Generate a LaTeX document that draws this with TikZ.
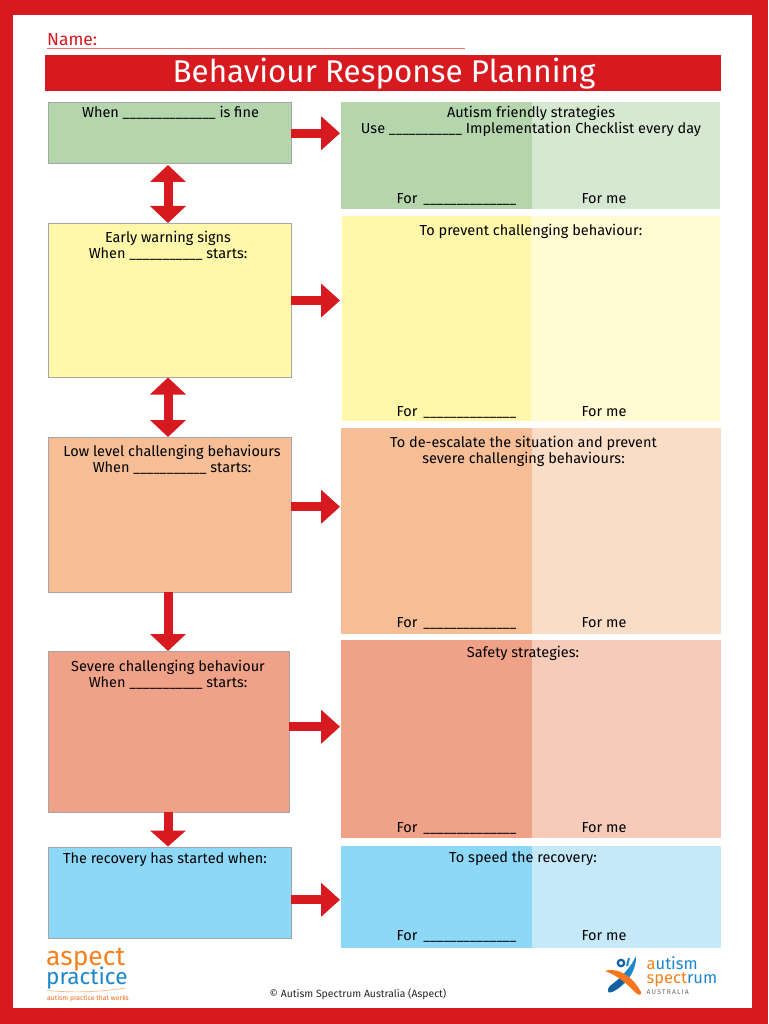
\documentclass[tikz,border=0pt]{standalone}
\usepackage{fontspec}
\setmainfont{Fira Sans}
\usetikzlibrary{arrows.meta,calc}
\definecolor{aspred}{HTML}{D71920}
\definecolor{grnD}{HTML}{B5D6AC}\definecolor{grnL}{HTML}{D7E8D2}
\definecolor{yelD}{HTML}{FFF7AA}\definecolor{yelL}{HTML}{FFFBD2}
\definecolor{orgD}{HTML}{F5BE96}\definecolor{orgL}{HTML}{F9DDC7}
\definecolor{redD}{HTML}{F0A288}\definecolor{redL}{HTML}{F6CBB9}
\definecolor{bluD}{HTML}{8DD7F7}\definecolor{bluL}{HTML}{C6E9FA}
\definecolor{lgorange}{HTML}{F58220}\definecolor{lgblue}{HTML}{1B87C9}
\definecolor{lgdark}{HTML}{14609E}
\tikzset{
 lbox/.style={draw=black!35,line width=1pt,inner sep=0pt,outer sep=0pt,anchor=north west},
 zone/.style={inner sep=0pt,outer sep=0pt,anchor=north west},
 txt/.style={font=\fontsize{14.5}{16}\selectfont,align=center,inner sep=0pt,text=black,anchor=base},
 flow/.style={draw=aspred,line width=9pt},
 rarrow/.style={flow,-{Triangle[length=19pt,width=33pt,fill=aspred]}},
 darrow/.style={flow,{Triangle[length=17pt,width=35pt,fill=aspred]}-{Triangle[length=17pt,width=35pt,fill=aspred]}},
 sarrow/.style={flow,-{Triangle[length=17pt,width=35pt,fill=aspred]}},
 sarrowb/.style={flow,-{Triangle[length=16pt,width=35pt,fill=aspred]}},
}
\newcommand{\blank}[1]{{\fontsize{13}{16}\selectfont\foreach \i in {1,...,#1}{\_}}}
\begin{document}
\begin{tikzpicture}[x=1pt,y=-1pt]
\useasboundingbox (0,0) rectangle (768,1024);
\fill[aspred] (0,0) rectangle (768,1024);
\fill[white] (13,15) rectangle (752,1008);
% header
\node[anchor=base west,inner sep=0pt,text=aspred,font=\fontsize{17.4}{18}\selectfont] (name) at (47,46) {Name:};
\coordinate (nl) at (47,48.5); \coordinate (nr) at (465,48.5);
\draw[aspred!60,line width=1.2pt] (nl) -- (nr);
\node[zone,fill=aspred,minimum width=676pt,minimum height=36pt] (bar) at (45,55) {};
\node[anchor=base,text=white,inner sep=0pt,font=\fontsize{31.4}{33}\selectfont] (title) at (384,82.5) {Behaviour Response Planning};
% left boxes
\node[lbox,fill=grnD,minimum width=243pt,minimum height=61.5pt] (a1) at (48,102.5) {};
\node[lbox,fill=yelD,minimum width=243pt,minimum height=154pt] (a2) at (48,223.5) {};
\node[lbox,fill=orgD,minimum width=243pt,minimum height=154.5pt] (a3) at (48,437.5) {};
\node[lbox,fill=redD,minimum width=241pt,minimum height=160.5pt] (a4) at (48,651.5) {};
\node[lbox,fill=bluD,minimum width=243pt,minimum height=90.5pt] (a5) at (48,847.5) {};
% right zones
\node[zone,fill=grnL,minimum width=379pt,minimum height=107pt] (b1) at (341,102) {};
\fill[grnD] (341,102) rectangle (532,209);
\node[zone,fill=yelL,minimum width=378pt,minimum height=205pt] (b2) at (342,216) {};
\fill[yelD] (342,216) rectangle (531,421);
\node[zone,fill=orgL,minimum width=380pt,minimum height=206pt] (b3) at (341,428) {};
\fill[orgD] (341,428) rectangle (532,634);
\node[zone,fill=redL,minimum width=380pt,minimum height=198pt] (b4) at (341,640) {};
\fill[redD] (341,640) rectangle (532,838);
\node[zone,fill=bluL,minimum width=380pt,minimum height=102pt] (b5) at (341,846) {};
\fill[bluD] (341,846) rectangle (532,948);
% left texts
\node[txt] (t1) at (170.5,117.5) {When \blank{14} is fine};
\node[txt] (t2a) at (168,242.5) {Early warning signs};
\node[txt] (t2b) at (168,258.5) {When \blank{11} starts:};
\node[txt] (t3a) at (172,456.5) {Low level challenging behaviours};
\node[txt] (t3b) at (172,472.5) {When \blank{11} starts:};
\node[txt] (t4a) at (168,671.5) {Severe challenging behaviour};
\node[txt] (t4b) at (168,687.5) {When \blank{11} starts:};
\node[txt] (t5) at (165,863.5) {The recovery has started when:};
% right texts
\node[txt] (r1a) at (531,117.5) {Autism friendly strategies};
\node[txt] (r1b) at (531,133.5) {Use \blank{11} Implementation Checklist every day};
\node[txt] (r2) at (531,235.5) {To prevent challenging behaviour:};
\node[txt] (r3a) at (523.5,447.5) {To de-escalate the situation and prevent};
\node[txt] (r3b) at (523.5,463.5) {severe challenging behaviours:};
\node[txt] (r4) at (523,657.5) {Safety strategies:};
\node[txt] (r5) at (523,862.5) {To speed the recovery:};
\foreach \y/\n in {204/1,416/2,627.5/3,832.5/4,940.5/5}{
 \node[txt] (f\n) at (456.5,\y) {For\hspace{6pt}\blank{14}};
 \node[txt] (m\n) at (604,\y) {For me};
}
% connectors
\draw[rarrow] ($(a1.east)+(0,0)$) -- ($(a1.east -| b1.west)+(-1,0)$);
\draw[rarrow] ($(a2.east)+(0,0)$) -- ($(a2.east -| b1.west)+(-1,0)$);
\draw[rarrow] ($(a3.east)+(0,-8)$) -- ($(a3.east -| b1.west)+(-1,-8)$);
\draw[rarrow] ($(a4.east)+(0,-5)$) -- ($(a4.east -| b1.west)+(-1,-5)$);
\draw[rarrow] ($(a5.east)+(0,7)$) -- ($(a5.east -| b1.west)+(-1,7)$);
\draw[darrow] ($(a1.south)+(-1.5,1)$) -- ($(a2.north)+(-1.5,-.5)$);
\draw[darrow] ($(a2.south)+(-1.5,0)$) -- ($(a3.north)+(-1.5,-.5)$);
\draw[sarrow] ($(a3.south)+(-1.5,0)$) -- ($(a4.north)+(-0.5,-.5)$);
\draw[sarrowb] ($(a4.south)+(-0.5,0)$) -- ($(a5.north)+(-1.5,-1)$);
% footer
\node[anchor=base,inner sep=0pt,font=\fontsize{10.4}{11}\selectfont,text=black!85] (copy) at (358,997) {© Autism Spectrum Australia (Aspect)};
% aspect practice logo
\node[anchor=base west,inner sep=0pt,align=left,text=lgorange] (lg1) at (46,984) {\lineskiplimit=-30pt{\fontsize{26.5}{19}\selectfont aspect}\\[-6pt]{\fontsize{22.5}{19}\selectfont\color{lgblue}practice}};
\draw[lgorange!55,line width=.7pt] (47,990.5) .. controls (75,993) and (100,992) .. (125,988);
\node[anchor=base west,inner sep=0pt,text=lgorange!80!red,font=\fontsize{6.8}{7}\selectfont] (lg3) at (47,1000) {autism practice that works};
% autism spectrum logo
\fill[lgblue] (636,956) .. controls (637,970) and (626,986) .. (612,992) .. controls (607,994) and (607,989) .. (610,986) .. controls (621,978) and (631,967) .. (636,956) -- cycle;
\fill[lgdark] (612,992) .. controls (607,994) and (607,989) .. (610,986) .. controls (614,983) and (618,980) .. (621,977) -- (624,982) .. controls (620,987) and (616,990) .. (612,992) -- cycle;
\fill[lgorange!90!red] (605,971) .. controls (620,966) and (635,980) .. (641,992) .. controls (642,996) and (638,995) .. (636,993) .. controls (627,984) and (617,975) .. (605,971) -- cycle;
\draw[lgdark,line width=2.2pt] (621,963) circle (3.2pt);
\draw[lgblue,line width=2pt] (629,958) -- (627,966);
\node[anchor=base west,inner sep=0pt,align=left,text=lgorange,font=\fontsize{16.5}{14}\selectfont] (as1) at (646.5,983.5) {\lineskiplimit=-30pt a\textcolor{lgblue}{utism}\\spect\textcolor{lgblue}{rum}};
\node[anchor=base west,inner sep=0pt,text=black!60,font=\fontsize{6.8}{7}\selectfont] (as3) at (646.5,994) {A\,U\,S\,T\,R\,A\,L\,I\,A};
\end{tikzpicture}
\end{document}
